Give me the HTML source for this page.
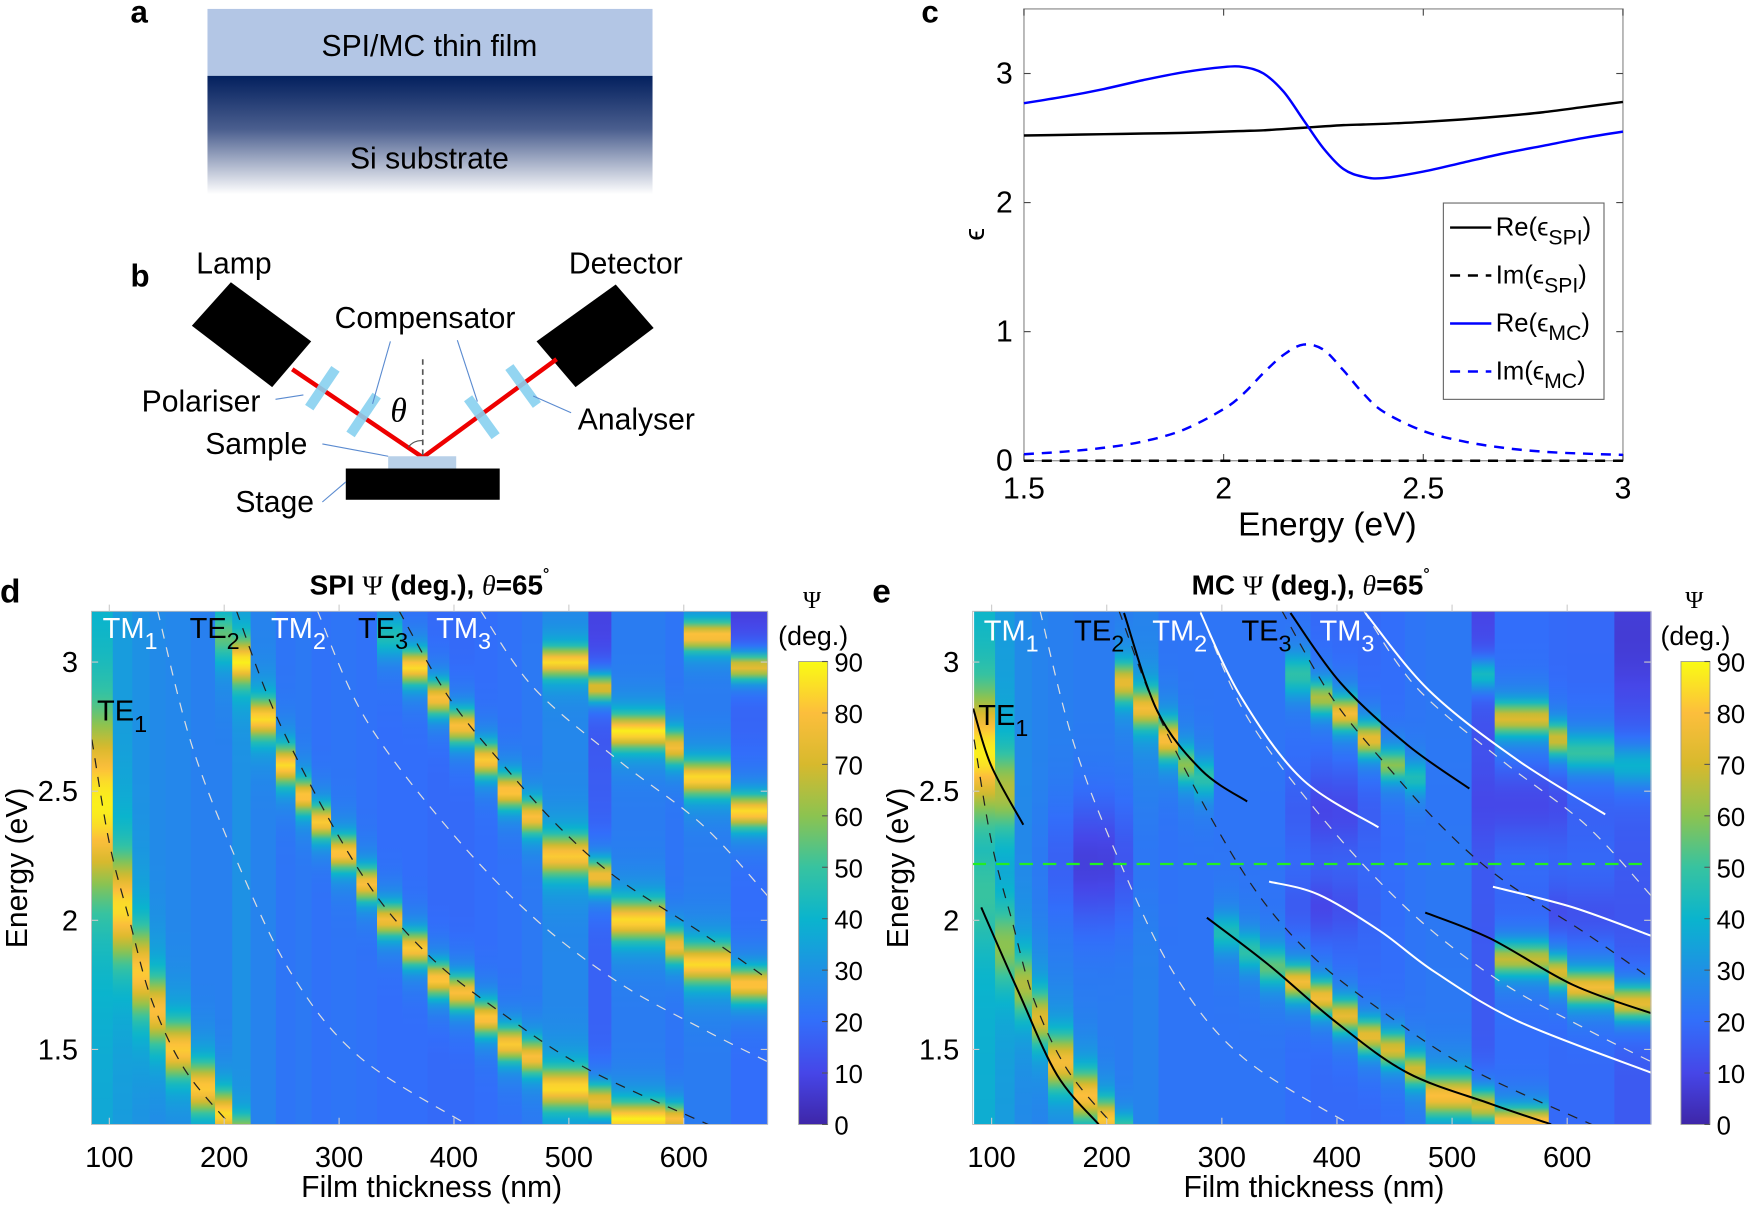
<!DOCTYPE html>
<html><head><meta charset="utf-8">
<style>
html,body{margin:0;padding:0;background:#fff;}
svg{display:block;font-family:"Liberation Sans",sans-serif;}
</style></head>
<body>
<svg id="fig" xmlns="http://www.w3.org/2000/svg" width="1749" height="1207" viewBox="0 0 1568 1082" preserveAspectRatio="none">
<defs>
<linearGradient id="subGrad" x1="0" y1="0" x2="0" y2="1">
<stop offset="0" stop-color="#03205e"/><stop offset="0.45" stop-color="#4a5e8e"/><stop offset="1" stop-color="#ffffff"/>
</linearGradient>
</defs>
<g>
<text x="117" y="20" font-size="28" font-weight="bold">a</text>
<rect x="186" y="8" width="399" height="60" fill="#b3c6e5"/>
<rect x="186" y="68" width="399" height="106" fill="url(#subGrad)"/>
<text x="385" y="50" font-size="27" text-anchor="middle">SPI/MC thin film</text>
<text x="385" y="151" font-size="27" text-anchor="middle">Si substrate</text>
</g>
<g>
<text x="117" y="257" font-size="28" font-weight="bold">b</text>
<polygon points="172,292 207,253 279,306 244,347" fill="#000"/>
<polygon points="481,306 552,255 586,294 516,347" fill="#000"/>
<polyline points="262,331 379,410 499,322" fill="none" stroke="#ee0000" stroke-width="4"/>
<line x1="379" y1="322" x2="379" y2="410" stroke="#555" stroke-width="1.5" stroke-dasharray="5,4"/>
<path d="M366,401 A14,14 0 0 1 379,395" fill="none" stroke="#555" stroke-width="1"/>
<text x="350" y="378" font-size="30" font-style="italic" font-family="Liberation Serif,serif">θ</text>
<g fill="#87d0ef" fill-opacity="0.9">
<rect x="-4.5" y="-21" width="9" height="42" transform="translate(289,348) rotate(34)"/>
<rect x="-4.5" y="-21" width="9" height="42" transform="translate(326,372) rotate(34)"/>
<rect x="-4.5" y="-21" width="9" height="42" transform="translate(432,374) rotate(-36)"/>
<rect x="-4.5" y="-21" width="9" height="42" transform="translate(469,346) rotate(-36)"/>
</g>
<rect x="348" y="409" width="61" height="11" fill="#b8d0e8"/>
<rect x="310" y="420" width="138" height="28" fill="#000"/>
<g stroke="#5b8bd0" stroke-width="1" fill="none">
<line x1="247" y1="358" x2="272" y2="354"/><line x1="334" y1="362" x2="350" y2="306"/><line x1="428" y1="360" x2="410" y2="305"/>
<line x1="478" y1="355" x2="512" y2="370"/><line x1="289" y1="398" x2="348" y2="409"/><line x1="289" y1="450" x2="310" y2="432"/>
</g>
<g font-size="27">
<text x="176" y="245">Lamp</text>
<text x="510" y="245">Detector</text>
<text x="300" y="294">Compensator</text>
<text x="127" y="369">Polariser</text>
<text x="518" y="385">Analyser</text>
<text x="184" y="407">Sample</text>
<text x="211" y="459">Stage</text>
</g>
</g>
<g id="panelC"></g>
<g id="panelD"></g>
<g id="panelE"></g>
</svg>
<script>
// ---------- Panel c data ----------
const cEnergy = [1.5,1.6,1.7,1.8,1.9,2.0,2.05,2.1,2.15,2.2,2.25,2.3,2.35,2.4,2.5,2.6,2.7,2.8,2.9,3.0];
const reSPI = [2.52,2.525,2.53,2.535,2.54,2.55,2.555,2.56,2.57,2.58,2.59,2.6,2.605,2.61,2.625,2.645,2.67,2.70,2.74,2.78];
const reMC = [2.77,2.82,2.88,2.95,3.01,3.05,3.05,3.0,2.86,2.64,2.42,2.26,2.2,2.19,2.24,2.31,2.38,2.44,2.5,2.55];
const imMC = [0.05,0.07,0.1,0.15,0.24,0.4,0.52,0.68,0.82,0.9,0.86,0.7,0.52,0.38,0.23,0.15,0.1,0.07,0.055,0.045];
const imSPI = [0,0,0,0,0,0,0,0,0,0,0,0,0,0,0,0,0,0,0,0];
const cXTicks = [1.5,2,2.5,3];
const cYTicks = [0,1,2,3];

// ---------- Heatmap data ----------
const colEdges = [84.8,103,120,135,149,171,192,207,223,245,262,276,293,315,333,355,377,396,418,438,459,477,517,537,584,600,641,674];
const dBg = [36,33,30,28,27,25,25,30,26,22,23,21,22,21,20,20,19,19,20,21,23,27,17,24,22,24,20];
const dPeaks = [
[[2.45,88,0.3]],[[2.05,85,0.18]],[[1.8,82,0.15]],[[1.65,80,0.12]],[[1.5,82,0.1]],[[1.35,82,0.09]],
[[1.25,85,0.08],[3.1,55,0.1]],[[3.0,88,0.08],[1.2,60,0.05]],[[2.78,85,0.07]],[[2.6,85,0.07]],[[2.48,82,0.06]],
[[2.38,82,0.06]],[[2.26,82,0.06]],[[2.14,80,0.06]],[[2.0,78,0.06],[3.1,45,0.08]],[[1.89,82,0.06],[2.98,85,0.06]],
[[1.77,82,0.06],[2.86,80,0.06]],[[1.72,80,0.06],[2.75,80,0.06]],[[1.62,82,0.06],[2.62,82,0.06]],
[[1.52,82,0.06],[2.5,82,0.06]],[[1.47,80,0.06],[2.4,80,0.06]],[[1.35,85,0.07],[2.25,82,0.07],[3.0,85,0.05]],
[[1.3,75,0.06],[2.17,78,0.06],[2.9,78,0.05]],[[1.23,88,0.06],[2.0,85,0.07],[2.73,88,0.06]],
[[1.23,80,0.05],[1.9,78,0.06],[2.67,78,0.06]],[[1.83,85,0.07],[2.55,85,0.06],[3.1,82,0.05]],
[[1.75,82,0.06],[2.42,85,0.06],[2.98,82,0.05]]
];
// SPI darker top regions: thickness, energy, depth, widths
const dDipT = [527,657];
const dDipE = [3.2,3.2];
const dDipDepth = [8,12];
const dDipWT = [12,20];
const dDipWE = [0.5,0.35];
const eBg = [38,33,28,26,25,24,24,24,26,22,22,22,22,22,22,20,19,19,19,20,22,23,15,20,19,19,15];
const ePeaks = [
[[2.65,88,0.2],[2.1,50,0.2]],[[2.5,65,0.15],[1.9,60,0.15]],[[1.75,65,0.12]],[[1.62,72,0.1]],[[1.45,78,0.1]],
[[1.32,80,0.09]],[[1.23,82,0.07]],[[2.92,75,0.07],[1.2,50,0.05]],[[2.82,78,0.07]],[[2.7,80,0.07]],[[2.6,60,0.07]],
[[2.55,48,0.07]],[[1.95,45,0.07]],[[1.88,48,0.07]],[[1.82,55,0.07]],[[1.76,78,0.06],[2.95,48,0.08]],
[[1.7,78,0.06],[2.86,65,0.06]],[[1.63,75,0.06],[2.8,78,0.06]],[[1.55,75,0.06],[2.7,75,0.06]],
[[1.5,72,0.06],[2.6,60,0.06]],[[1.42,70,0.06],[2.55,45,0.06]],[[1.32,80,0.07]],[[1.28,72,0.06],[2.95,48,0.06]],
[[1.22,82,0.05],[1.85,68,0.06],[2.78,72,0.06]],[[1.8,72,0.06],[2.7,70,0.06]],[[1.74,78,0.06],[2.65,50,0.07]],
[[1.68,75,0.06],[2.6,40,0.08]]
];
const dipT = [190,395,570,390,600,527,657];
const dipE = [2.22,2.42,2.45,2.05,2.02,3.1,3.1];
const dipDepth = [17,10,10,9,8,6,8];
const dipWT = [35,30,45,30,40,12,20];
const dipWE = [0.25,0.15,0.15,0.12,0.12,0.4,0.3];

const te1T=[84.8,100,117.6,137,166,207], te1E=[2.70,2.3,2.0,1.69,1.42,1.20];
const tm1T=[142,171,210,259,318,411], tm1E=[3.2,2.69,2.24,1.79,1.47,1.21];
const te2T=[210.5,249.6,318,376.6,445,518,626], te2E=[3.2,2.75,2.19,1.87,1.63,1.42,1.20];
const tm2T=[281,323,396,469.5,543,616,674], tm2E=[3.2,2.78,2.35,2.01,1.76,1.58,1.45];
const te3T=[352,396,445,494,543,616,674], te3E=[3.2,2.86,2.59,2.35,2.16,1.95,1.77];
const tm3T=[423,469.5,543,616,674], tm3E=[3.2,2.90,2.62,2.37,2.09];
const mcTe1uT=[84,99.5,127.5], mcTe1uE=[2.82,2.6,2.37];
const mcTe1lT=[91,123.6,157,193], mcTe1lE=[2.05,1.72,1.40,1.21];
const mcTe2uT=[215,244,282.6,322], mcTe2uE=[3.19,2.81,2.58,2.46];
const mcTe2lT=[287,340,398,461,533,586], mcTe2lE=[2.01,1.83,1.61,1.41,1.29,1.21];
const mcTm2uT=[281.6,316,369,436], mcTm2uE=[3.19,2.87,2.55,2.36];
const mcTm2lT=[341,384,437,485,557,673], mcTm2lE=[2.15,2.10,1.96,1.80,1.61,1.41];
const mcTe3uT=[359.6,403,461,515], mcTe3uE=[3.19,2.92,2.68,2.51];
const mcTe3lT=[476.7,533,605,673], mcTe3lE=[2.03,1.93,1.75,1.64];
const mcTm3uT=[424.7,480,557,633], mcTm3uE=[3.19,2.89,2.62,2.41];
const mcTm3lT=[535.5,605,673], mcTm3lE=[2.13,2.05,1.94];
const excitonE = [2.218];
const hmXTicks=[100,200,300,400,500,600];
const hmYTicks=[1.5,2,2.5,3];
const cbTicks=[0,10,20,30,40,50,60,70,80,90];

const NS="http://www.w3.org/2000/svg";
function mk(tag,attrs,parent){const el=document.createElementNS(NS,tag);for(const k in attrs)el.setAttribute(k,attrs[k]);if(parent)parent.appendChild(el);return el;}
function txt(parent,x,y,s,size,extra){const t=mk('text',Object.assign({x:x,y:y,'font-size':size},extra||{}),parent);t.textContent=s;return t;}

const parula=[[62,38,168],[70,70,232],[50,110,250],[30,145,228],[10,180,205],[55,195,160],[140,195,80],[215,185,45],[252,190,60],[249,251,20]];
function cmap(v){let f=Math.max(0,Math.min(1,v/90))*9;let i=Math.min(8,Math.floor(f));let r=f-i;const a=parula[i],b=parula[i+1];
return 'rgb('+[0,1,2].map(k=>Math.round(a[k]+(b[k]-a[k])*r)).join(',')+')';}

function smoothPath(pts){let d='M'+pts[0][0]+','+pts[0][1];
for(let i=0;i<pts.length-1;i++){const p0=pts[Math.max(0,i-1)],p1=pts[i],p2=pts[i+1],p3=pts[Math.min(pts.length-1,i+2)];
d+=' C'+(p1[0]+(p2[0]-p0[0])/6).toFixed(1)+','+(p1[1]+(p2[1]-p0[1])/6).toFixed(1)+' '+(p2[0]-(p3[0]-p1[0])/6).toFixed(1)+','+(p2[1]-(p3[1]-p1[1])/6).toFixed(1)+' '+p2[0].toFixed(1)+','+p2[1].toFixed(1);}
return d;}

(function(){
const g=document.getElementById('panelC');
const X0=918,X1=1455,Y0=8,Y1=413;
const xc=e=>X0+(e-1.5)*(X1-X0)/1.5, yc=v=>Y1-v*115.7;
txt(g,826,20,'c',28,{'font-weight':'bold'});
const frame=mk('rect',{x:X0,y:Y0,width:X1-X0,height:Y1-Y0,fill:'none',stroke:'#999','stroke-width':1.2},g);

cXTicks.forEach(t=>{mk('line',{x1:xc(t),y1:Y1,x2:xc(t),y2:Y1-6,stroke:'#444'},g);mk('line',{x1:xc(t),y1:Y0,x2:xc(t),y2:Y0+6,stroke:'#444'},g);
const l=txt(g,xc(t),Y1+34,String(t),27,{'text-anchor':'middle'});});
cYTicks.forEach(t=>{mk('line',{x1:X0,y1:yc(t),x2:X0+6,y2:yc(t),stroke:'#444'},g);mk('line',{x1:X1,y1:yc(t),x2:X1-6,y2:yc(t),stroke:'#444'},g);
const l=txt(g,X0-10,yc(t)+9,String(t),27,{'text-anchor':'end'});});
const xl=txt(g,1190,480,'Energy (eV)',30,{'text-anchor':'middle'});
const yl=txt(g,0,0,'ϵ',26,{'text-anchor':'middle',transform:'translate(882,210) rotate(-90)'});
const series=[[reSPI,'#000',null,'re-spi-line'],[imSPI,'#000','9,7','im-spi-line'],[reMC,'#0000ff',null,'re-mc-line'],[imMC,'#0000ff','9,7','im-mc-line']];
series.forEach(s=>{const p=mk('path',{d:smoothPath(cEnergy.map((e,i)=>[xc(e),yc(s[0][i])])),fill:'none',stroke:s[1],'stroke-width':2.2},g);
if(s[2])p.setAttribute('stroke-dasharray',s[2]);});
const lg=mk('g',{},g);
mk('rect',{x:1294,y:182,width:144,height:176,fill:'#fff',stroke:'#666'},lg);
const labs=[['Re','SPI'],['Im','SPI'],['Re','MC'],['Im','MC']];
labs.forEach((l,i)=>{const y=204+i*43;const s=series[i];
const ln=mk('line',{x1:1300,y1:y,x2:1337,y2:y,stroke:s[1],'stroke-width':2.2},lg);if(s[2])ln.setAttribute('stroke-dasharray','9,7');
const t=mk('text',{x:1341,y:y+7,'font-size':23},lg);
t.innerHTML=l[0]+'(ϵ<tspan dy="8" font-size="19">'+l[1]+'</tspan><tspan dy="-8">)</tspan>';});
})();

function heatmap(gid,opt){
const g=document.getElementById(gid);
const {X0,X1,Y0,Y1,x100,pxnm,bg,peaks,dT,dE,dD,dWT,dWE,label,lx,title,tx,cbx,labelPos,solid}=opt;
const xs=t=>x100+(t-100)*pxnm; const ys=e=>825-(e-2)*231.5;
const eTop=2+(825-Y0)/231.5, eBot=2-(Y1-825)/231.5;
txt(g,lx,540,label,30,{'font-weight':'bold'});
const defs=mk('defs',{},g);
const cells=mk('g',{},g);
for(let c=0;c<colEdges.length-1;c++){
 const gid2=gid+'col'+c;const lgd=mk('linearGradient',{id:gid2,x1:0,y1:0,x2:0,y2:1},defs);
 const tMid=(colEdges[c]+colEdges[c+1])/2;const N=90;
 for(let k=0;k<=N;k++){const e=eTop-(eTop-eBot)*k/N;let v=bg[c];
  for(let j=0;j<dT.length;j++){v-=dD[j]*Math.exp(-Math.pow((tMid-dT[j])/dWT[j],2)-Math.pow((e-dE[j])/dWE[j],2));}
  let add=0;peaks[c].forEach(p=>{const d=(e-p[0])/p[2];add=Math.max(add,(p[1]-bg[c])*(0.75*Math.exp(-d*d)+0.25*Math.exp(-d*d/5)));});
  v+=add;mk('stop',{offset:(k/N).toFixed(3),'stop-color':cmap(v)},lgd);}
 const xa=Math.max(X0,xs(colEdges[c])),xb=Math.min(X1,xs(colEdges[c+1]));
 const r=mk('rect',{x:xa.toFixed(1),y:Y0,width:(xb-xa+0.6).toFixed(1),height:Y1-Y0,fill:'url(#'+gid2+')'},cells);
 }
const cp=mk('clipPath',{id:gid+'clip'},defs);mk('rect',{x:X0,y:Y0,width:X1-X0,height:Y1-Y0},cp);
const lines=mk('g',{'clip-path':'url(#'+gid+'clip)',fill:'none'},g);
[[te1T,te1E,'#222','te1'],[tm1T,tm1E,'#ddd','tm1'],[te2T,te2E,'#222','te2'],[tm2T,tm2E,'#ddd','tm2'],[te3T,te3E,'#222','te3'],[tm3T,tm3E,'#ddd','tm3']].forEach(s=>{
 const p=mk('path',{d:smoothPath(s[0].map((t,i)=>[xs(t),ys(s[1][i])])),stroke:s[2],'stroke-width':1.1,'stroke-dasharray':'9,8'},lines);
 });
if(solid){
 const hl=mk('line',{x1:X0,x2:X1,y1:ys(excitonE[0]),y2:ys(excitonE[0]),stroke:'#22ee22','stroke-width':2,'stroke-dasharray':'12,9'},lines);
 
 [[mcTe1uT,mcTe1uE,'#000'],[mcTe1lT,mcTe1lE,'#000'],[mcTe2uT,mcTe2uE,'#000'],[mcTe2lT,mcTe2lE,'#000'],[mcTm2uT,mcTm2uE,'#fff'],[mcTm2lT,mcTm2lE,'#fff'],[mcTe3uT,mcTe3uE,'#000'],[mcTe3lT,mcTe3lE,'#000'],[mcTm3uT,mcTm3uE,'#fff'],[mcTm3lT,mcTm3lE,'#fff']].forEach(s=>{
 const p=mk('path',{d:smoothPath(s[0].map((t,i)=>[xs(t),ys(s[1][i])])),stroke:s[2],'stroke-width':1.8},lines);
 });}
mk('rect',{x:X0,y:Y0,width:X1-X0,height:Y1-Y0,fill:'none',stroke:'#bbb','stroke-width':0.8},g);
hmXTicks.forEach(t=>{mk('line',{x1:xs(t),x2:xs(t),y1:Y1,y2:Y1-6,stroke:'#ccc'},g);mk('line',{x1:xs(t),x2:xs(t),y1:Y0,y2:Y0-6,stroke:'#ccc'},g);
 const l=txt(g,xs(t),Y1+38,String(t),26,{'text-anchor':'middle'});});
hmYTicks.forEach(t=>{mk('line',{x1:X0,x2:X0+6,y1:ys(t),y2:ys(t),stroke:'#ccc'},g);mk('line',{x1:X1,x2:X1-6,y1:ys(t),y2:ys(t),stroke:'#ccc'},g);
 const l=txt(g,X0-12,ys(t)+9,String(t),26,{'text-anchor':'end'});});
const xt=txt(g,(X0+X1)/2+2,1073,'Film thickness (nm)',27,{'text-anchor':'middle'});
const yt=txt(g,0,0,'Energy (eV)',27,{'text-anchor':'middle',transform:'translate('+(X0-58)+',778) rotate(-90)'});
const tt=mk('text',{x:tx,y:533,'font-size':25,'font-weight':'bold','text-anchor':'middle'},g);
tt.innerHTML=title+' <tspan font-family="Liberation Serif,serif" font-weight="normal">Ψ</tspan> (deg.), <tspan font-family="Liberation Serif,serif" font-style="italic" font-weight="normal">θ</tspan>=65<tspan dy="-14" font-size="14">°</tspan>';

labelPos.forEach(L=>{const t=mk('text',{x:L[0],y:L[1],'font-size':26,fill:L[3]},g);t.innerHTML=L[2]+'<tspan dy="10" font-size="21">'+L[4]+'</tspan>';
 });
const cbY0=593,cbY1=Y1;const lgc=mk('linearGradient',{id:gid+'cb',x1:0,y1:1,x2:0,y2:0},defs);
for(let k=0;k<=18;k++)mk('stop',{offset:k/18,'stop-color':cmap(k*90/18)},lgc);
const cb=mk('rect',{x:cbx,y:cbY0,width:26,height:cbY1-cbY0,fill:'url(#'+gid+'cb)',stroke:'#999','stroke-width':0.8},g);

cbTicks.forEach(t=>{const y=cbY1-(cbY1-cbY0)*t/90;mk('line',{x1:cbx+21,x2:cbx+26,y1:y,y2:y,stroke:'#555'},g);
 const l=txt(g,cbx+32,y+9,String(t),23,{});});
const ps=txt(g,cbx+12,545,'Ψ',22,{'text-anchor':'middle','font-family':'Liberation Serif,serif'});
const dg=txt(g,cbx+13,578,'(deg.)',24,{'text-anchor':'middle'});
}
heatmap('panelD',{X0:82,X1:688,Y0:548,Y1:1008,x100:98,pxnm:1.03,bg:dBg,peaks:dPeaks,dT:dDipT,dE:dDipE,dD:dDipDepth,dWT:dDipWT,dWE:dDipWE,label:'d',lx:0,title:'SPI',tx:385,cbx:716,solid:false,
 labelPos:[[92,572,'TM','#fff','1'],[170,572,'TE','#000','2'],[243,572,'TM','#fff','2'],[321,572,'TE','#000','3'],[391,572,'TM','#fff','3'],[87,646,'TE','#000','1']]});
heatmap('panelE',{X0:872,X1:1480,Y0:548,Y1:1008,x100:889,pxnm:1.032,bg:eBg,peaks:ePeaks,dT:dipT,dE:dipE,dD:dipDepth,dWT:dipWT,dWE:dipWE,label:'e',lx:782,title:'MC',tx:1175,cbx:1507,solid:true,
 labelPos:[[882,574,'TM','#fff','1'],[963,574,'TE','#000','2'],[1033,574,'TM','#fff','2'],[1113,574,'TE','#000','3'],[1183,574,'TM','#fff','3'],[877,650,'TE','#000','1']]});
</script>
</body></html>
